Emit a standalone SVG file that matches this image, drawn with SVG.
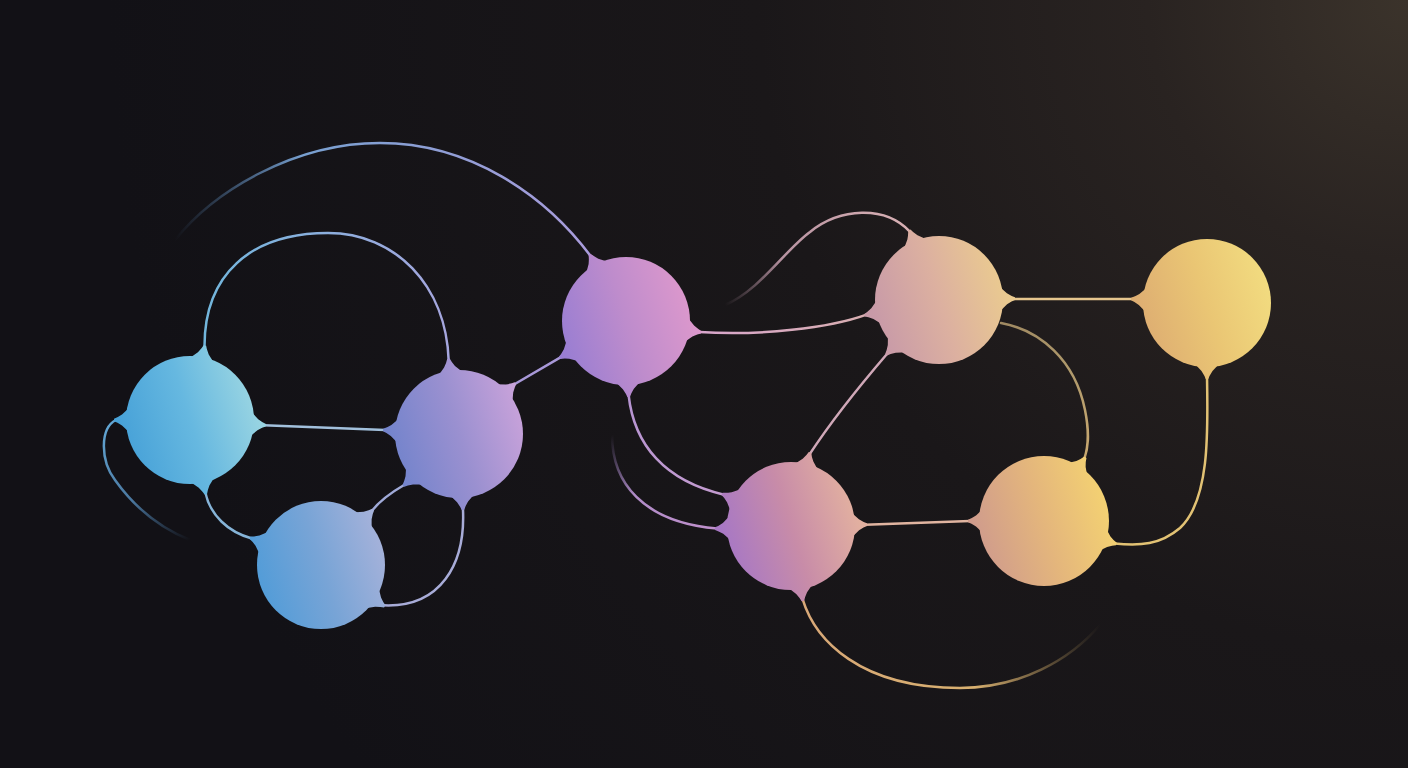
<svg xmlns="http://www.w3.org/2000/svg" xmlns:xlink="http://www.w3.org/1999/xlink" width="1408" height="768" viewBox="0 0 1408 768">
<style>
.edge{fill:none;stroke-width:2.5;stroke-linecap:round}
</style>
<defs>
<radialGradient id="bg" cx="1408" cy="0" r="1300" gradientUnits="userSpaceOnUse">
<stop offset="0" stop-color="#3b332b"/>
<stop offset="0.2" stop-color="#292321"/>
<stop offset="0.5" stop-color="#1a1719"/>
<stop offset="1" stop-color="#121116"/>
</radialGradient>
<path id="tab" d="M60,-13 L68,-5.5 Q73,-2.2 76,-1.3 L76,1.3 Q73,2.2 68,5.5 L60,13 Z"/>

<linearGradient id="gA" gradientUnits="userSpaceOnUse" x1="126" y1="440" x2="254" y2="400"><stop offset="0" stop-color="#48a2d8"/><stop offset="0.5" stop-color="#66b8e0"/><stop offset="1" stop-color="#98d4e2"/></linearGradient>
<linearGradient id="gB" gradientUnits="userSpaceOnUse" x1="257" y1="585" x2="385" y2="545"><stop offset="0" stop-color="#519cd8"/><stop offset="0.5" stop-color="#78a4d6"/><stop offset="1" stop-color="#a6b2da"/></linearGradient>
<linearGradient id="gC" gradientUnits="userSpaceOnUse" x1="395" y1="454" x2="523" y2="414"><stop offset="0" stop-color="#7484cc"/><stop offset="0.5" stop-color="#9a90d0"/><stop offset="1" stop-color="#c8a2da"/></linearGradient>
<linearGradient id="gD" gradientUnits="userSpaceOnUse" x1="562" y1="341" x2="690" y2="301"><stop offset="0" stop-color="#9a7ed2"/><stop offset="0.5" stop-color="#be8ccc"/><stop offset="1" stop-color="#dc98cc"/></linearGradient>
<linearGradient id="gE" gradientUnits="userSpaceOnUse" x1="875" y1="320" x2="1003" y2="280"><stop offset="0" stop-color="#c89aa8"/><stop offset="0.5" stop-color="#dcb0a0"/><stop offset="1" stop-color="#eaca90"/></linearGradient>
<linearGradient id="gF" gradientUnits="userSpaceOnUse" x1="1143" y1="323" x2="1271" y2="283"><stop offset="0" stop-color="#deae72"/><stop offset="0.5" stop-color="#eac674"/><stop offset="1" stop-color="#f2dc80"/></linearGradient>
<linearGradient id="gG" gradientUnits="userSpaceOnUse" x1="727" y1="546" x2="855" y2="506"><stop offset="0" stop-color="#a878c4"/><stop offset="0.5" stop-color="#c88ca8"/><stop offset="1" stop-color="#e2b0a0"/></linearGradient>
<linearGradient id="gH" gradientUnits="userSpaceOnUse" x1="979" y1="541" x2="1109" y2="501"><stop offset="0" stop-color="#d09c8c"/><stop offset="0.5" stop-color="#e4b67c"/><stop offset="1" stop-color="#f4d272"/></linearGradient>

<linearGradient id="s1" gradientUnits="userSpaceOnUse" x1="175" y1="240" x2="590" y2="256"><stop offset="0" stop-color="#5b8fc4" stop-opacity="0"/><stop offset="0.3" stop-color="#78a0d0"/><stop offset="1" stop-color="#aa9cdc"/></linearGradient>
<linearGradient id="s2" gradientUnits="userSpaceOnUse" x1="205" y1="300" x2="449" y2="300"><stop offset="0" stop-color="#72b6dc"/><stop offset="1" stop-color="#a6a6de"/></linearGradient>
<linearGradient id="s4" gradientUnits="userSpaceOnUse" x1="116" y1="420" x2="190" y2="540"><stop offset="0" stop-color="#62a6d4"/><stop offset="0.55" stop-color="#5890c0" stop-opacity="0.8"/><stop offset="1" stop-color="#4a7aa8" stop-opacity="0"/></linearGradient>
<linearGradient id="s9" gradientUnits="userSpaceOnUse" x1="699" y1="332" x2="866" y2="315"><stop offset="0" stop-color="#d8a6cc"/><stop offset="1" stop-color="#d8aeb0"/></linearGradient>
<linearGradient id="s10" gradientUnits="userSpaceOnUse" x1="725" y1="305" x2="910" y2="232"><stop offset="0" stop-color="#a88898" stop-opacity="0"/><stop offset="0.35" stop-color="#c8a0b0" stop-opacity="0.9"/><stop offset="1" stop-color="#d8b0b4"/></linearGradient>
<linearGradient id="s12" gradientUnits="userSpaceOnUse" x1="628" y1="395" x2="724" y2="495"><stop offset="0" stop-color="#b694d2"/><stop offset="1" stop-color="#c49cd0"/></linearGradient>
<linearGradient id="s13" gradientUnits="userSpaceOnUse" x1="612" y1="435" x2="717" y2="528"><stop offset="0" stop-color="#9a80c0" stop-opacity="0"/><stop offset="0.4" stop-color="#b08cc8"/><stop offset="1" stop-color="#c090cc"/></linearGradient>
<linearGradient id="s16" gradientUnits="userSpaceOnUse" x1="1001" y1="323" x2="1084" y2="459"><stop offset="0" stop-color="#a08a62"/><stop offset="0.5" stop-color="#b09a6c"/><stop offset="1" stop-color="#c8a870"/></linearGradient>
<linearGradient id="s18" gradientUnits="userSpaceOnUse" x1="802" y1="600" x2="1100" y2="625"><stop offset="0" stop-color="#d8a878"/><stop offset="0.6" stop-color="#d8b070"/><stop offset="1" stop-color="#c0a060" stop-opacity="0"/></linearGradient>

<clipPath id="tA">
<use xlink:href="#tab" transform="translate(190 420) rotate(-78.7)"/>
<use xlink:href="#tab" transform="translate(190 420) rotate(180)"/>
<use xlink:href="#tab" transform="translate(190 420) rotate(4)"/>
<use xlink:href="#tab" transform="translate(190 420) rotate(78)"/>
</clipPath>
<clipPath id="tB">
<use xlink:href="#tab" transform="translate(321 565) rotate(-159)"/>
<use xlink:href="#tab" transform="translate(321 565) rotate(-46.7)"/>
<use xlink:href="#tab" transform="translate(321 565) rotate(33)"/>
</clipPath>
<clipPath id="tC">
<use xlink:href="#tab" transform="translate(459 434) rotate(-98)"/>
<use xlink:href="#tab" transform="translate(459 434) rotate(183)"/>
<use xlink:href="#tab" transform="translate(459 434) rotate(137)"/>
<use xlink:href="#tab" transform="translate(459 434) rotate(87)"/>
<use xlink:href="#tab" transform="translate(459 434) rotate(-42)"/>
</clipPath>
<clipPath id="tD">
<use xlink:href="#tab" transform="translate(626 321) rotate(-118.6)"/>
<use xlink:href="#tab" transform="translate(626 321) rotate(151)"/>
<use xlink:href="#tab" transform="translate(626 321) rotate(8.5)"/>
<use xlink:href="#tab" transform="translate(626 321) rotate(88)"/>
</clipPath>
<clipPath id="tE">
<use xlink:href="#tab" transform="translate(939 300) rotate(-113)"/>
<use xlink:href="#tab" transform="translate(939 300) rotate(168.5)"/>
<use xlink:href="#tab" transform="translate(939 300) rotate(134)"/>
<use xlink:href="#tab" transform="translate(939 300) rotate(-1)"/>
</clipPath>
<clipPath id="tF">
<use xlink:href="#tab" transform="translate(1207 303) rotate(183)"/>
<use xlink:href="#tab" transform="translate(1207 303) rotate(90)"/>
</clipPath>
<clipPath id="tG">
<use xlink:href="#tab" transform="translate(791 526) rotate(-75.5)"/>
<use xlink:href="#tab" transform="translate(791 526) rotate(205)"/>
<use xlink:href="#tab" transform="translate(791 526) rotate(178)"/>
<use xlink:href="#tab" transform="translate(791 526) rotate(-1)"/>
<use xlink:href="#tab" transform="translate(791 526) rotate(81)"/>
</clipPath>
<clipPath id="tH">
<use xlink:href="#tab" transform="translate(1044 521) rotate(180)"/>
<use xlink:href="#tab" transform="translate(1044 521) rotate(-57)"/>
<use xlink:href="#tab" transform="translate(1044 521) rotate(17.7)"/>
</clipPath>
</defs>

<rect id="background" x="0" y="0" width="1408" height="768" fill="url(#bg)"/>

<g id="connectors">
<path class="edge" stroke="url(#s1)" d="M175,240 C215,190 295,143 380,143 C470,143 545,195 590.6,256"/>
<path class="edge" stroke="url(#s2)" d="M204.5,347.4 C204,275 250,233 328,233 C395,233 446,285 448.7,360.7"/>
<path class="edge" stroke="#a2c0dc" d="M263.8,425.2 L385.1,430.1"/>
<path class="edge" stroke="url(#s4)" d="M116,420 C100,428 100,460 115,480 C135,508 160,528 190,540"/>
<path class="edge" stroke="#86b4d8" d="M205.4,492.4 C210,515 228,532 251.9,538.5"/>
<path class="edge" stroke="#a0aad8" d="M404.9,484.5 C392,492 380,500 371.8,511.1"/>
<path class="edge" stroke="#a8acd8" d="M462.9,507.9 C466,565 440,608 383.1,605.3"/>
<path class="edge" stroke="#a898d8" d="M514,384.5 L561.3,356.9"/>
<path class="edge" stroke="url(#s9)" d="M699.2,332 C760,336 830,328 866.5,314.7"/>
<path class="edge" stroke="url(#s10)" d="M725,305 C760,290 785,250 810,232 C840,208 885,205 910.1,231.9"/>
<path class="edge" stroke="#d0a8b8" d="M887.6,353.2 C862,383 832,420 809.5,454.4"/>
<path class="edge" stroke="url(#s12)" d="M628.6,395 C634,445 665,481 724,494.7"/>
<path class="edge" stroke="url(#s13)" d="M612,435 C612,482 642,522 717,528.6"/>
<path class="edge" stroke="#e0b4a0" d="M865,524.7 L970,521"/>
<path class="edge" stroke="#e6c68e" d="M1013,299 L1133,299"/>
<path class="edge" stroke="url(#s16)" d="M1001,323 C1040,330 1075,360 1085,410 C1090,435 1088,448 1084.3,458.9"/>
<path class="edge" stroke="#e2c274" d="M1207,377 C1208,430 1210,500 1180,528 C1160,545 1140,546 1114.5,543.5"/>
<path class="edge" stroke="url(#s18)" d="M802.6,599.1 C815,640 860,688 960,688 C1020,688 1070,660 1100,625"/>
</g>

<g id="node-a"><circle cx="190" cy="420" r="64" fill="url(#gA)"/><rect x="100" y="330" width="180" height="180" fill="url(#gA)" clip-path="url(#tA)"/></g>
<g id="node-b"><circle cx="321" cy="565" r="64" fill="url(#gB)"/><rect x="231" y="475" width="180" height="180" fill="url(#gB)" clip-path="url(#tB)"/></g>
<g id="node-c"><circle cx="459" cy="434" r="64" fill="url(#gC)"/><rect x="369" y="344" width="180" height="180" fill="url(#gC)" clip-path="url(#tC)"/></g>
<g id="node-d"><circle cx="626" cy="321" r="64" fill="url(#gD)"/><rect x="536" y="231" width="180" height="180" fill="url(#gD)" clip-path="url(#tD)"/></g>
<g id="node-e"><circle cx="939" cy="300" r="64" fill="url(#gE)"/><rect x="849" y="210" width="180" height="180" fill="url(#gE)" clip-path="url(#tE)"/></g>
<g id="node-f"><circle cx="1207" cy="303" r="64" fill="url(#gF)"/><rect x="1117" y="213" width="180" height="180" fill="url(#gF)" clip-path="url(#tF)"/></g>
<g id="node-g"><circle cx="791" cy="526" r="64" fill="url(#gG)"/><rect x="701" y="436" width="180" height="180" fill="url(#gG)" clip-path="url(#tG)"/></g>
<g id="node-h"><circle cx="1044" cy="521" r="65" fill="url(#gH)"/><rect x="954" y="431" width="180" height="180" fill="url(#gH)" clip-path="url(#tH)"/></g>
</svg>
